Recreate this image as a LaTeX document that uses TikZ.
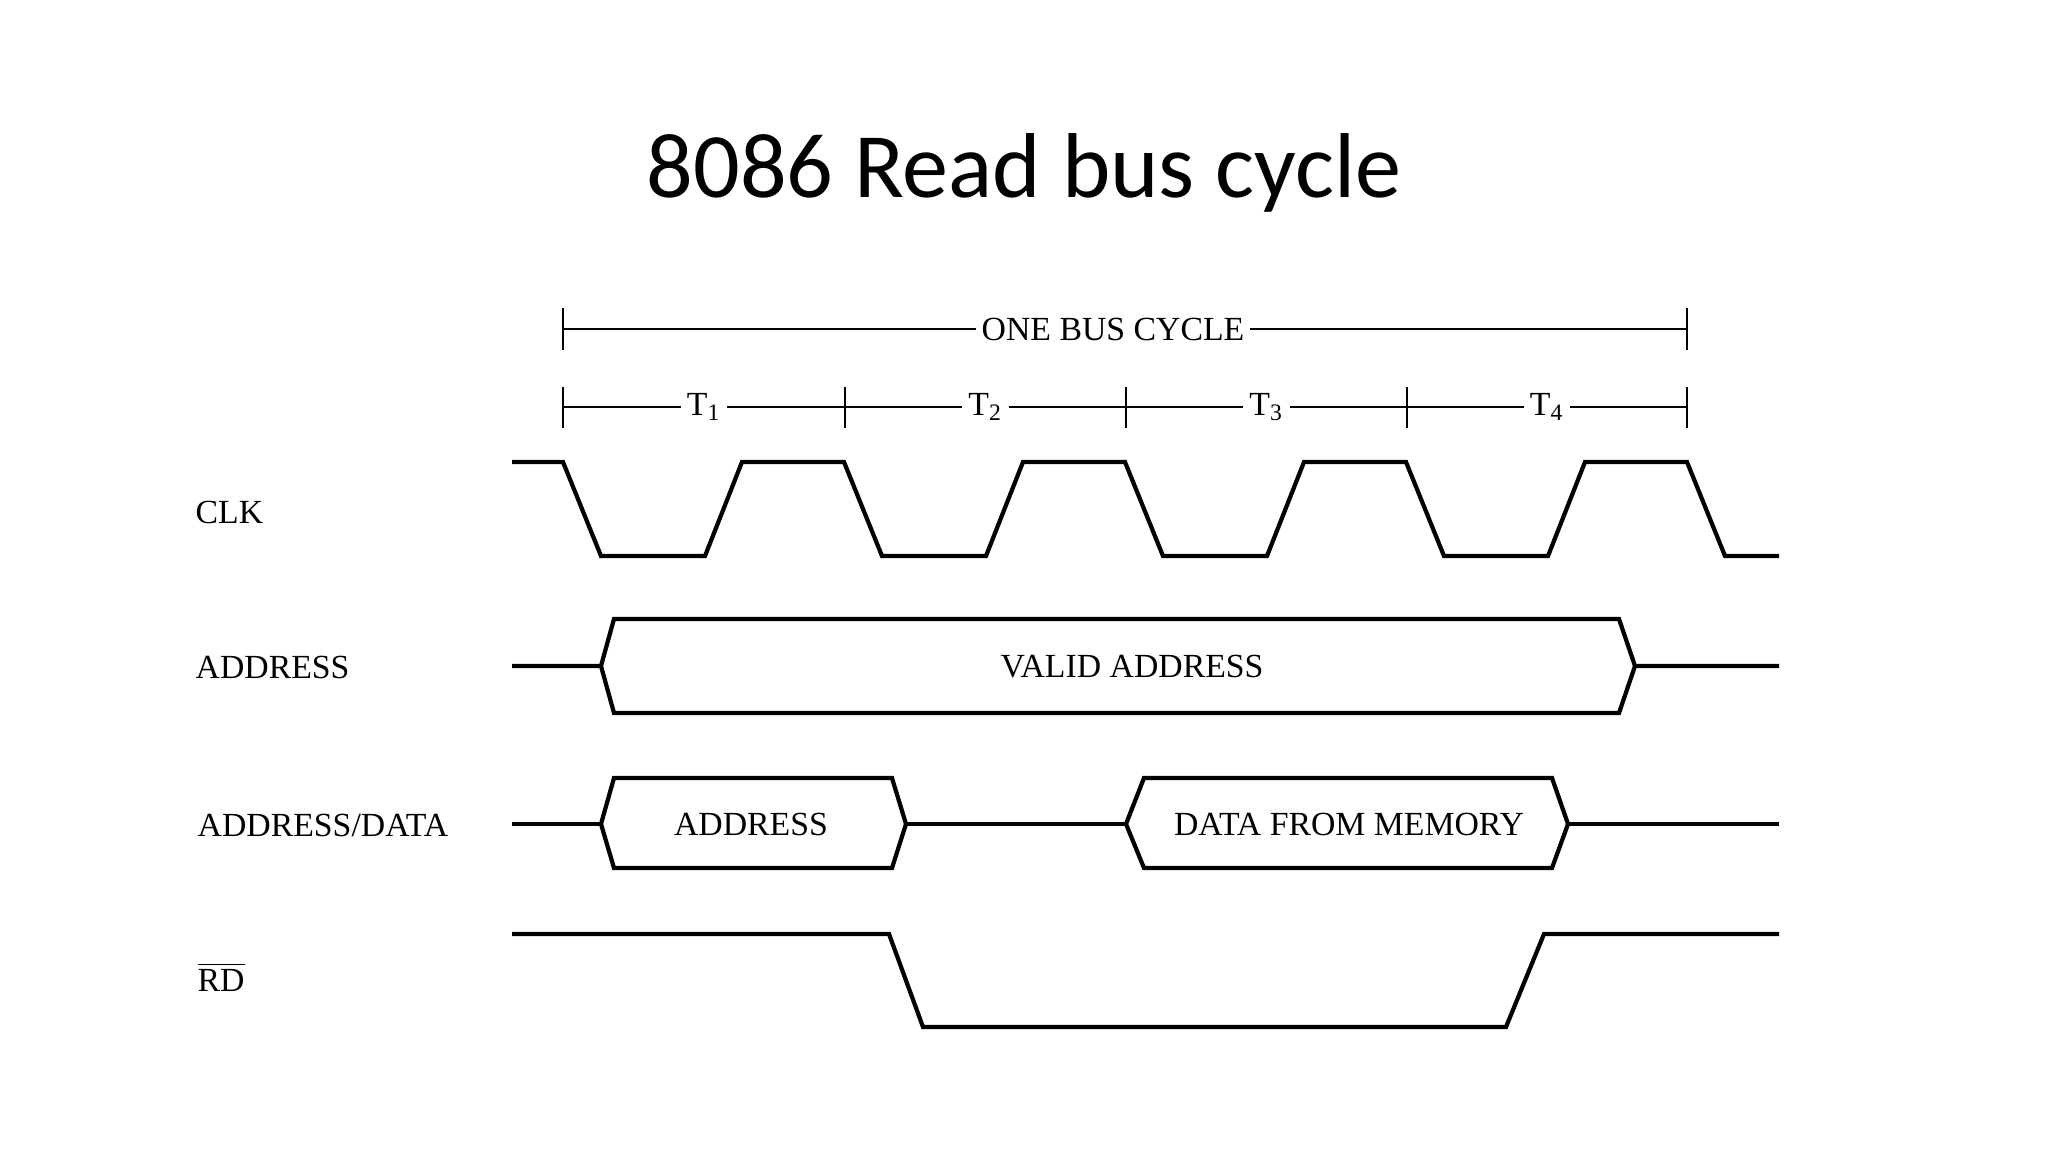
\documentclass[tikz,border=0pt]{standalone}
\usepackage{fontspec}
\setmainfont{Liberation Serif}
\newfontfamily\titlefont{Carlito}
\usetikzlibrary{calc}
\begin{document}
\begin{tikzpicture}[x=0.01cm, y=-0.01cm,
    wave/.style={line width=1.2pt, line join=miter},
    ruler/.style={line width=0.7pt},
    lbl/.style={font=\fontsize{9.6}{11}\selectfont, inner sep=1.5pt},
    sig/.style={font=\fontsize{9.6}{11}\selectfont, anchor=west, inner sep=0pt}]

    \useasboundingbox (0,0) rectangle (2048,1152);

    % Judul
    \node[anchor=base, font=\titlefont\fontsize{26.2}{30}\selectfont] (title) at (1024,198) {8086 Read bus cycle};

    % One bus cycle
    \coordinate (c0) at (563,329);
    \coordinate (c1) at (1687,329);
    \node[lbl] (bus) at (1113,329) {ONE BUS CYCLE};
    \draw[ruler] (c0) -- (bus.west);
    \draw[ruler] (bus.east) -- (c1);
    \draw[ruler] (c0) ++(0,-21) -- ++(0,42);
    \draw[ruler] (c1) ++(0,-21) -- ++(0,42);

    % T states
    \foreach \i/\x in {0/563,1/845,2/1126,3/1407,4/1687}
        \coordinate (t\i) at (\x,407);
    \foreach \i in {0,...,4}
        \draw[ruler] (t\i) ++(0,-20) -- ++(0,41);
    \foreach \i/\j in {0/1,1/2,2/3,3/4} {
        \node[lbl] (T\j) at ($(t\i)!0.5!(t\j)$) {T\textsubscript{\j}};
        \draw[ruler] (t\i) -- (T\j.west);
        \draw[ruler] (T\j.east) -- (t\j);
    }

    % Nama sinyal
    \node[sig] (clk) at (195,512) {CLK};
    \node[sig] (addr) at (195,667) {ADDRESS};
    \node[sig] (ad) at (197,825) {ADDRESS/DATA};
    \node[sig] (rd) at (197,977) {$\overline{\mbox{RD}}$};

    % CLK
    \draw[wave] (512,462) \foreach \i in {0,...,3} {
        -- ({563+281*\i},462) -- ({601+281*\i},556)
        -- ({705+281*\i},556) -- ({742+281*\i},462) }
        -- (1687,462) -- (1725,556) -- (1779,556);

    % ADDRESS
    \node[lbl] (valid) at (1132,667) {VALID ADDRESS};
    \draw[wave] (512,666) -- (601,666) -- (614,619) -- (1619,619) -- (1635,666) -- (1779,666);
    \draw[wave] (601,666) -- (614,713) -- (1619,713) -- (1635,666);

    % ADDRESS/DATA
    \node[lbl] (adr) at (751,824) {ADDRESS};
    \node[lbl] (data) at (1349,824) {DATA FROM MEMORY};
    \draw[wave] (512,824) -- (601,824);
    \draw[wave] (601,824) -- (614,778) -- (892,778) -- (906,824) -- (892,868) -- (614,868) -- cycle;
    \draw[wave] (906,824) -- (1126,824);
    \draw[wave] (1126,824) -- (1144,778) -- (1552,778) -- (1568,824) -- (1552,868) -- (1144,868) -- cycle;
    \draw[wave] (1568,824) -- (1779,824);

    % RD
    \draw[wave] (512,934) -- (889,934) -- (923,1027) -- (1506,1027) -- (1544,934) -- (1779,934);

\end{tikzpicture}
\end{document}
